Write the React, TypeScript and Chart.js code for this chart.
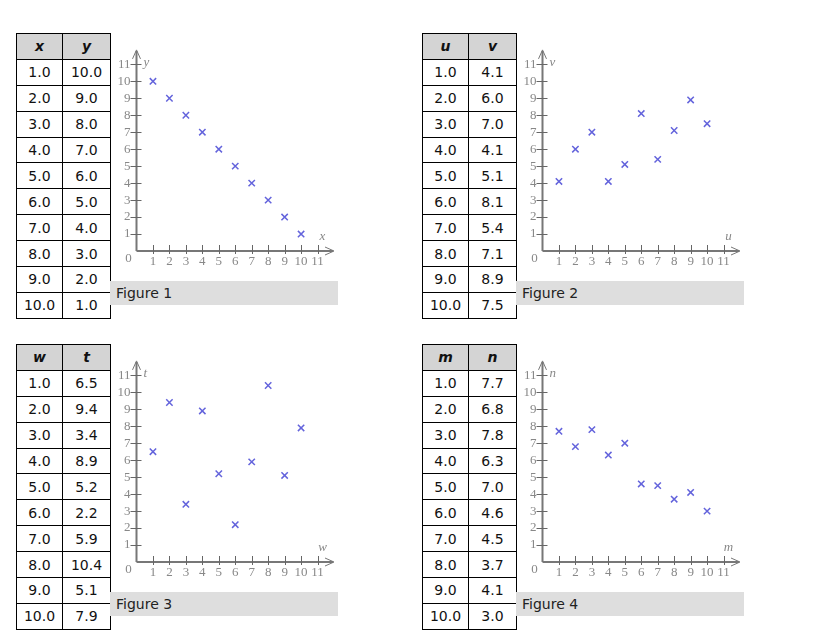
import React, { useEffect, useRef } from 'react';
import { Chart, registerables } from 'chart.js';

Chart.register(...registerables);

// shared independent values (first column of every table)
const inputs = [1, 2, 3, 4, 5, 6, 7, 8, 9, 10];
const fig1Values = [10, 9, 8, 7, 6, 5, 4, 3, 2, 1];
const fig2Values = [4.1, 6.0, 7.0, 4.1, 5.1, 8.1, 5.4, 7.1, 8.9, 7.5];
const fig3Values = [6.5, 9.4, 3.4, 8.9, 5.2, 2.2, 5.9, 10.4, 5.1, 7.9];
const fig4Values = [7.7, 6.8, 7.8, 6.3, 7.0, 4.6, 4.5, 3.7, 4.1, 3.0];
const tickValues = [1, 2, 3, 4, 5, 6, 7, 8, 9, 10, 11];

const panels = [
  { xName: 'x', yName: 'y', values: fig1Values, caption: 'Figure 1', left: 16, top: 33 },
  { xName: 'u', yName: 'v', values: fig2Values, caption: 'Figure 2', left: 422, top: 33 },
  { xName: 'w', yName: 't', values: fig3Values, caption: 'Figure 3', left: 16, top: 344 },
  { xName: 'm', yName: 'n', values: fig4Values, caption: 'Figure 4', left: 422, top: 344 },
];

const serif = '"Liberation Serif", "DejaVu Serif", serif';
const sans = '"DejaVu Sans", Verdana, sans-serif';

// draws arrowed axes through the origin, with crossing ticks
const mathAxes = {
  id: 'mathAxes',
  beforeDatasetsDraw(chart: any, _args: any, opts: any) {
    const { ctx } = chart;
    const xs = chart.scales.x;
    const ys = chart.scales.y;
    const x0 = xs.getPixelForValue(0);
    const y0 = ys.getPixelForValue(0);
    const xEnd = xs.getPixelForValue(xs.max);
    const yEnd = ys.getPixelForValue(ys.max);

    ctx.save();
    ctx.strokeStyle = '#777';
    ctx.lineWidth = 2;
    ctx.beginPath();
    ctx.moveTo(x0, y0);
    ctx.lineTo(xEnd - 1, y0);
    ctx.moveTo(x0, y0);
    ctx.lineTo(x0, yEnd + 1);
    ctx.stroke();

    // arrow heads
    ctx.lineWidth = 1;
    ctx.beginPath();
    ctx.moveTo(xEnd - 9, y0 - 4);
    ctx.lineTo(xEnd, y0);
    ctx.lineTo(xEnd - 9, y0 + 4);
    ctx.moveTo(x0 - 4, yEnd + 9);
    ctx.lineTo(x0, yEnd);
    ctx.lineTo(x0 + 4, yEnd + 9);
    ctx.stroke();

    // ticks
    ctx.strokeStyle = '#666';
    ctx.lineWidth = 1;
    ctx.beginPath();
    tickValues.forEach((v) => {
      const px = Math.round(xs.getPixelForValue(v)) + 0.5;
      ctx.moveTo(px, y0 - 6);
      ctx.lineTo(px, y0 + 3);
      const py = Math.round(ys.getPixelForValue(v)) + 0.5;
      ctx.moveTo(x0 - 6, py);
      ctx.lineTo(x0 + 5, py);
    });
    ctx.stroke();

    // tick labels
    ctx.fillStyle = '#888';
    ctx.font = '13px ' + serif;
    ctx.textBaseline = 'middle';
    ctx.textAlign = 'center';
    tickValues.forEach((v) => {
      ctx.fillText(String(v), xs.getPixelForValue(v), y0 + 11);
    });
    ctx.textAlign = 'right';
    tickValues.forEach((v) => {
      ctx.fillText(String(v), x0 - 6, ys.getPixelForValue(v));
    });
    ctx.textAlign = 'center';
    ctx.fillText('0', x0 - 8, y0 + 8);

    // axis names
    ctx.font = 'italic 13px ' + serif;
    ctx.textAlign = 'center';
    ctx.fillText(opts.xName, xs.getPixelForValue(11.3), y0 - 14);
    ctx.textAlign = 'left';
    ctx.fillText(opts.yName, x0 + 7, ys.getPixelForValue(11.1));
    ctx.restore();
  },
};

const Plot: React.FC<{ xName: string; yName: string; values: number[] }> = ({ xName, yName, values }) => {
  const canvasRef = useRef<HTMLCanvasElement | null>(null);

  useEffect(() => {
    if (!canvasRef.current) return;
    const chart = new Chart(canvasRef.current, {
      type: 'scatter',
      data: {
        datasets: [
          {
            data: inputs.map((x, i) => ({ x, y: values[i] })),
            pointStyle: 'crossRot',
            pointRadius: 4.5,
            pointHoverRadius: 4.5,
            borderWidth: 1.5,
            borderColor: '#6464dc',
            backgroundColor: '#6464dc',
          },
        ],
      },
      options: {
        animation: false,
        responsive: false,
        events: [],
        layout: { padding: { left: 26.5, right: 1.7, top: 9.9, bottom: 29 } },
        scales: {
          x: { type: 'linear', min: 0, max: 12, display: false },
          y: { type: 'linear', min: 0, max: 11.85, display: false },
        },
        plugins: {
          legend: { display: false },
          tooltip: { enabled: false },
          mathAxes: { xName, yName },
        } as any,
      },
      plugins: [mathAxes],
    });
    return () => {
      chart.destroy();
    };
  }, [xName, yName, values]);

  return <canvas ref={canvasRef} width={230} height={240} style={{ display: 'block' }} />;
};

const cellStyle: React.CSSProperties = {
  border: '1px solid #000',
  padding: 0,
  height: 24.9,
  textAlign: 'center',
  fontFamily: sans,
  fontSize: 14,
  color: '#111',
};

const Panel: React.FC<(typeof panels)[number]> = ({ xName, yName, values, caption, left, top }) => (
  <>
    <table
      style={{
        position: 'absolute',
        left,
        top,
        borderCollapse: 'collapse',
        border: '1px solid #000',
      }}
    >
      <tbody>
        <tr>
          <th style={{ ...cellStyle, width: 45, background: '#d4d4d4', fontStyle: 'italic', fontWeight: 'bold' }}>{xName}</th>
          <th style={{ ...cellStyle, width: 47, background: '#d4d4d4', fontStyle: 'italic', fontWeight: 'bold' }}>{yName}</th>
        </tr>
        {inputs.map((x, i) => (
          <tr key={i}>
            <td style={cellStyle}>{x.toFixed(1)}</td>
            <td style={cellStyle}>{values[i].toFixed(1)}</td>
          </tr>
        ))}
      </tbody>
    </table>
    <div style={{ position: 'absolute', left: left + 94, top: top + 7 }}>
      <Plot xName={xName} yName={yName} values={values} />
    </div>
    <div
      style={{
        position: 'absolute',
        left: left + 94,
        top: top + 248,
        width: 222,
        height: 24,
        lineHeight: '24px',
        paddingLeft: 6,
        background: '#dedede',
        fontFamily: sans,
        fontSize: 14,
        color: '#222',
      }}
    >
      {caption}
    </div>
  </>
);

export default function App() {
  return (
    <div style={{ position: 'absolute', left: 0, top: 0, width: 817, height: 640, background: '#fff' }}>
      {panels.map((p) => (
        <Panel key={p.caption} {...p} />
      ))}
    </div>
  );
}
